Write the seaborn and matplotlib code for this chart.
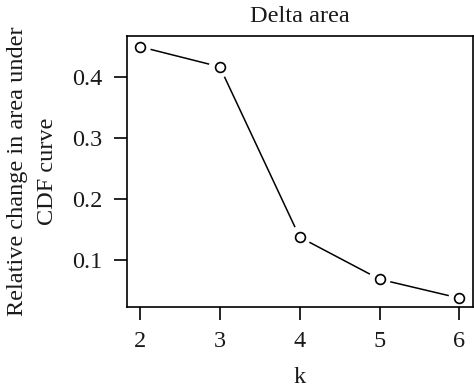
import matplotlib
matplotlib.use("Agg")
import matplotlib.pyplot as plt
import seaborn as sns
import pandas as pd

k_values = [2, 3, 4, 5, 6]
delta_area = [0.450, 0.417, 0.138, 0.069, 0.038]
y_ticks = [0.1, 0.2, 0.3, 0.4]
y_tick_labels = ["0.1", "0.2", "0.3", "0.4"]

sns.set_theme(style="white")
plt.rcParams["font.family"] = ["Liberation Serif", "DejaVu Serif"]

df = pd.DataFrame({"k": k_values, "delta": delta_area})

fig = plt.figure(figsize=(4.74, 3.91), dpi=100)
ax = fig.add_axes([0.267, 0.2156, 0.731, 0.6931])

sns.lineplot(data=df, x="k", y="delta", color="black", linewidth=1.1, ax=ax, zorder=1)
sns.scatterplot(data=df, x="k", y="delta", s=250, color="white", edgecolor="none",
                ax=ax, zorder=2)
sns.scatterplot(data=df, x="k", y="delta", s=50, facecolor="white", edgecolor="black",
                linewidth=1.2, ax=ax, zorder=3)

ax.set_xlim(1.833, 6.17)
ax.set_ylim(0.024, 0.468)
ax.set_xticks(k_values)
ax.set_xticklabels([str(v) for v in k_values])
ax.set_yticks(y_ticks)
ax.set_yticklabels(y_tick_labels)

for s in ax.spines.values():
    s.set_visible(True)
    s.set_color("black")
    s.set_linewidth(1.2)

fs = 17.5
ax.tick_params(axis="both", which="major", direction="out", length=9.5, width=1.2,
               color="black", labelsize=fs, labelcolor="#1a1a1a", left=True, bottom=True)
ax.tick_params(axis="x", pad=8)
ax.tick_params(axis="y", pad=8)

ax.set_title("Delta area", fontsize=fs, pad=10, color="#1a1a1a")
ax.set_xlabel("k", fontsize=fs, labelpad=11, color="#1a1a1a")
ax.set_ylabel("Relative change in area under\nCDF curve", fontsize=fs, labelpad=10,
              color="#1a1a1a", linespacing=1.55)

fig.savefig("out.png", dpi=100)
